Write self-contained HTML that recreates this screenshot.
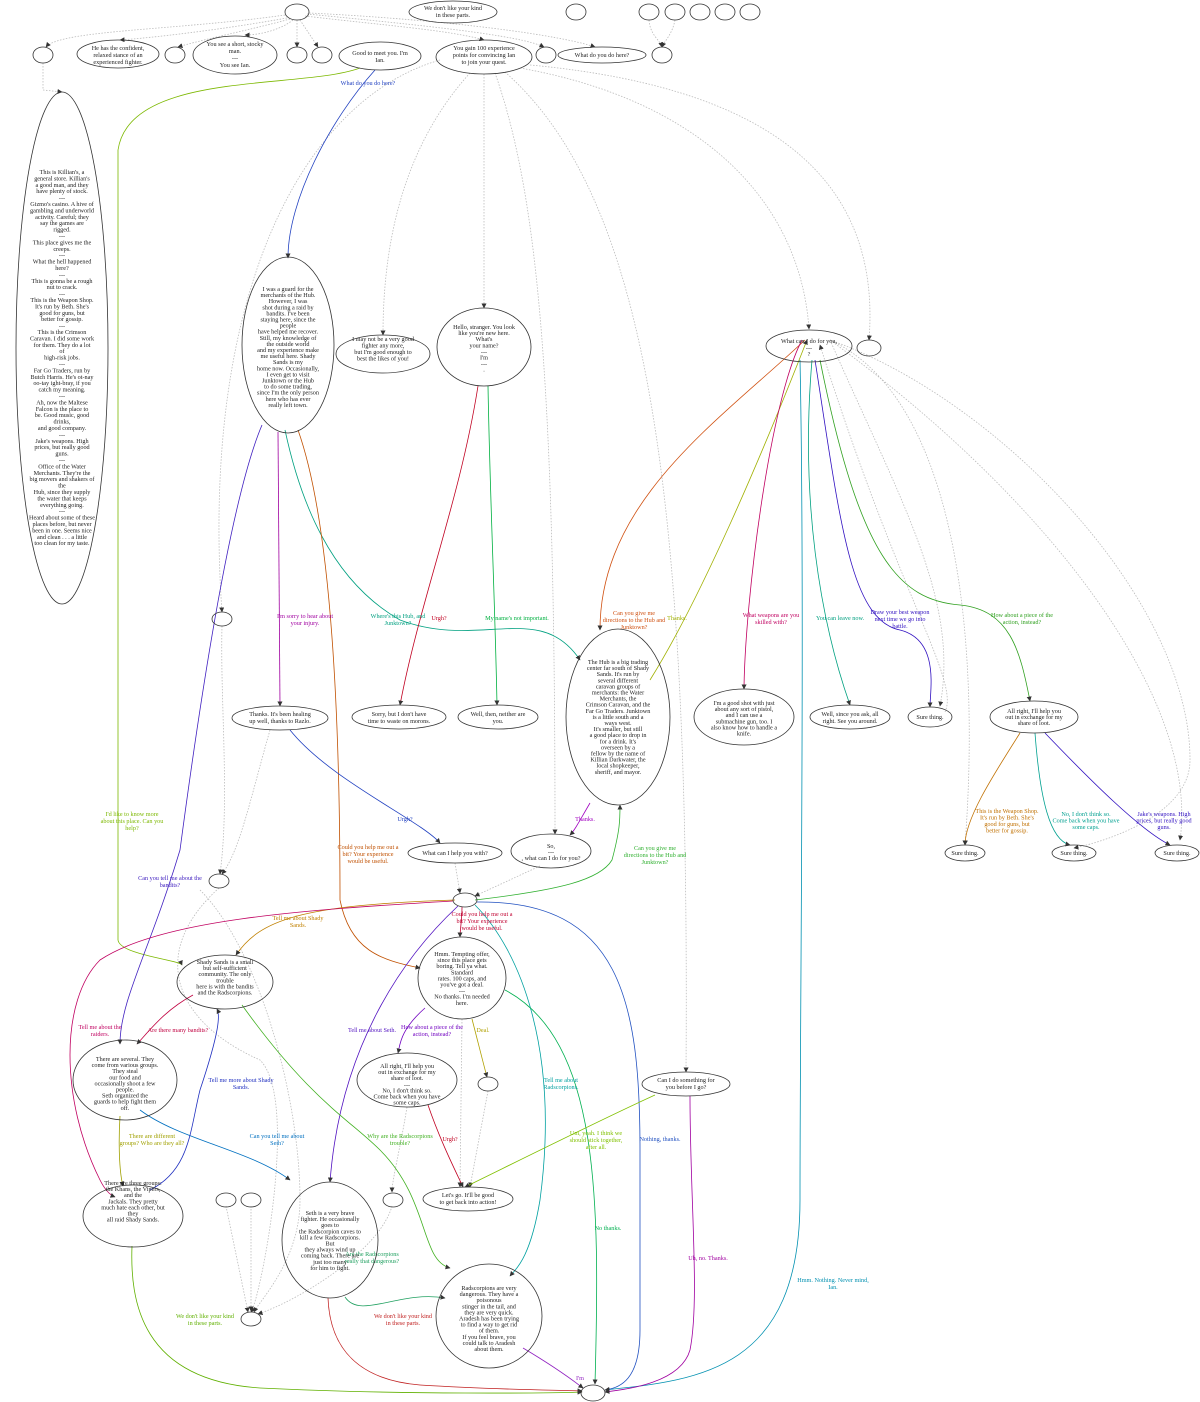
<!DOCTYPE html>
<html><head><meta charset="utf-8"><style>
html,body{margin:0;padding:0;background:#fff}
svg{display:block}
text{font-family:"Liberation Serif",serif;font-size:6.2px;text-anchor:middle;fill:#222}
.n{fill:none;stroke:#333;stroke-width:0.8}
.d path{fill:none;stroke:#bbb;stroke-width:0.8;stroke-dasharray:1.5,1.5;marker-end:url(#a)}
.e path{fill:none;stroke-width:0.8;marker-end:url(#a)}
</style></head><body>
<svg width="1200" height="1402" viewBox="0 0 1200 1402" xmlns="http://www.w3.org/2000/svg">
<defs><marker id="a" viewBox="0 0 10 10" refX="9" refY="5" markerWidth="5" markerHeight="5" orient="auto" markerUnits="userSpaceOnUse"><path d="M0,0 L10,5 L0,10 z" fill="#333"/></marker></defs>
<!-- dotted edges -->
<g class="d">
<path d="M285,15 C180,30 60,30 46,47"/>
<path d="M287,18 C220,30 150,38 120,40"/>
<path d="M290,19 C250,30 200,40 178,47"/>
<path d="M293,20 C280,30 260,35 245,35"/>
<path d="M297,20 L297,47"/>
<path d="M300,20 L318,47"/>
<path d="M305,16 C380,25 450,30 484,40"/>
<path d="M307,14 C420,25 520,35 544,47"/>
<path d="M309,13 C450,20 560,35 595,47"/>
<path d="M43,63 L43,90 L62,92"/>
<path d="M649,20 C650,35 660,40 662,47"/>
<path d="M675,20 C672,35 665,40 662,47"/>
<path d="M470,73 C400,150 383,250 383,335"/>
<path d="M484,74 L484,308"/>
<path d="M495,73 C540,200 555,400 555,834"/>
<path d="M505,72 C650,200 690,500 686,1072"/>
<path d="M520,68 C700,100 800,200 809,329"/>
<path d="M530,65 C800,90 880,200 869,340"/>
<path d="M440,60 C300,100 200,300 222,612"/>
<path d="M222,626 C220,700 230,800 220,874"/>
<path d="M270,730 C250,800 240,850 222,874"/>
<path d="M219,888 C150,950 170,1020 260,1060 C300,1100 260,1300 251,1312"/>
<path d="M830,340 C900,500 960,600 940,706"/>
<path d="M830,340 C960,400 980,650 965,845"/>
<path d="M830,340 C1000,400 1190,600 1190,760 C1190,820 1090,845 1074,848"/>
<path d="M830,340 C1050,500 1200,700 1180,840"/>
<path d="M945,712 C960,680 900,600 820,345"/>
<path d="M455,863 L460,893"/>
<path d="M540,866 L475,896"/>
<path d="M462,1019 L460,1187"/>
<path d="M488,1091 L470,1187"/>
<path d="M392,1206 C380,1250 300,1300 258,1314"/>
<path d="M407,1107 C400,1150 392,1180 392,1192"/>
<path d="M226,1206 L248,1312"/>
<path d="M251,1206 L251,1311"/>
<path d="M200,890 C260,950 300,1100 300,1200 C300,1260 260,1300 254,1312"/>
</g>
<!-- colored edges -->
<g class="e">
<path stroke="#7cb800" d="M360,68 C300,90 130,70 118,150 L118,940 C120,955 180,960 182,965"/>
<path stroke="#2040c0" d="M375,70 C330,120 288,200 288,258"/>
<path stroke="#a000a0" d="M278,432 L280,706"/>
<path stroke="#00a080" d="M285,430 C300,500 330,580 400,620 C480,650 540,600 580,660"/>
<path stroke="#c05000" d="M298,430 C330,520 340,700 340,900 C350,950 380,960 420,968"/>
<path stroke="#4020c0" d="M262,425 C230,500 200,700 180,850 C150,950 120,1000 120,1044"/>
<path stroke="#c00020" d="M478,386 C460,500 420,600 400,705"/>
<path stroke="#00b040" d="M488,386 C490,500 495,600 497,705"/>
<path stroke="#d05010" d="M805,340 C720,420 600,500 600,630"/>
<path stroke="#a0b000" d="M650,680 C700,600 760,460 807,340"/>
<path stroke="#c00060" d="M802,340 C770,400 745,600 744,689"/>
<path stroke="#00a080" d="M812,360 C800,500 820,620 850,705"/>
<path stroke="#3010c0" d="M815,360 C840,520 850,620 900,630 C940,640 930,690 930,707"/>
<path stroke="#30a020" d="M820,360 C860,560 900,600 960,605 C1010,610 1020,650 1030,701"/>
<path stroke="#c07000" d="M1020,733 C990,780 965,820 965,845"/>
<path stroke="#00a090" d="M1035,733 C1040,800 1050,840 1070,845"/>
<path stroke="#3010c0" d="M1045,733 C1090,780 1140,830 1170,845"/>
<path stroke="#0090b0" d="M800,360 C805,600 800,1000 800,1200 C800,1370 700,1380 605,1390"/>
<path stroke="#2040c0" d="M290,730 C330,780 420,820 440,843"/>
<path stroke="#a000c0" d="M590,803 C580,820 575,830 570,835"/>
<path stroke="#30b030" d="M475,900 C560,890 600,880 612,860 C620,830 620,820 620,805"/>
<path stroke="#c08000" d="M455,900 C300,905 260,920 236,955"/>
<path stroke="#c00030" d="M462,907 C462,920 460,930 460,937"/>
<path stroke="#c00060" d="M453,901 C300,910 160,920 100,960 C60,1000 60,1100 100,1180 C105,1190 110,1195 115,1197"/>
<path stroke="#5010c0" d="M458,906 C400,960 340,1050 330,1182"/>
<path stroke="#00a0a0" d="M475,905 C520,950 560,1050 540,1200 C530,1260 515,1270 510,1276"/>
<path stroke="#2050c0" d="M477,902 C620,900 640,1000 640,1150 L640,1330 C640,1380 620,1388 605,1390"/>
<path stroke="#00b050" d="M505,990 C600,1040 600,1200 595,1384"/>
<path stroke="#c00040" d="M193,995 C165,1010 150,1030 137,1044"/>
<path stroke="#40b020" d="M242,1005 C310,1100 350,1120 380,1150 C430,1200 420,1260 450,1268"/>
<path stroke="#7000c0" d="M425,1008 C400,1030 400,1045 398,1053"/>
<path stroke="#b0a000" d="M472,1019 C480,1050 485,1070 487,1077"/>
<path stroke="#c00020" d="M428,1105 C440,1140 455,1170 463,1187"/>
<path stroke="#80c000" d="M655,1095 C600,1120 500,1170 465,1187"/>
<path stroke="#a000a0" d="M690,1096 C690,1200 700,1300 690,1350 C680,1385 620,1390 605,1392"/>
<path stroke="#a0a000" d="M120,1116 C118,1150 120,1175 123,1186"/>
<path stroke="#0070c0" d="M140,1110 C180,1140 250,1150 290,1180"/>
<path stroke="#2030c0" d="M150,1190 C190,1170 190,1130 200,1090 C220,1030 220,1015 217,1009"/>
<path stroke="#60b000" d="M132,1246 C130,1300 140,1380 260,1388 C400,1395 560,1393 582,1392"/>
<path stroke="#20a060" d="M345,1297 C360,1320 400,1290 445,1298"/>
<path stroke="#c02020" d="M328,1298 C330,1350 360,1380 420,1385 C500,1390 560,1390 582,1391"/>
<path stroke="#9020c0" d="M523,1348 C560,1370 575,1382 583,1388"/>
</g>
<!-- edge labels -->
<g>
<text x="368" y="85" style="fill:#2040c0">What do you do here?</text>
<text x="132" y="816" style="fill:#7cb800"><tspan x="132">I'd like to know more</tspan><tspan x="132" dy="7">about this place. Can you</tspan><tspan x="132" dy="7">help?</tspan></text>
<text x="305" y="618" style="fill:#a000a0"><tspan x="305">I'm sorry to hear about</tspan><tspan x="305" dy="7">your injury.</tspan></text>
<text x="398" y="618" style="fill:#00a080"><tspan x="398">Where's this Hub, and</tspan><tspan x="398" dy="7">Junktown?</tspan></text>
<text x="368" y="849" style="fill:#c05000"><tspan x="368">Could you help me out a</tspan><tspan x="368" dy="7">bit? Your experience</tspan><tspan x="368" dy="7">would be useful.</tspan></text>
<text x="170" y="880" style="fill:#4020c0"><tspan x="170">Can you tell me about the</tspan><tspan x="170" dy="7">bandits?</tspan></text>
<text x="439" y="620" style="fill:#c00020">Urgh?</text>
<text x="517" y="620" style="fill:#00b040">My name's not important.</text>
<text x="634" y="615" style="fill:#d05010"><tspan x="634">Can you give me</tspan><tspan x="634" dy="7">directions to the Hub and</tspan><tspan x="634" dy="7">Junktown?</tspan></text>
<text x="677" y="620" style="fill:#a0b000">Thanks.</text>
<text x="771" y="617" style="fill:#c00060"><tspan x="771">What weapons are you</tspan><tspan x="771" dy="7">skilled with?</tspan></text>
<text x="840" y="620" style="fill:#00a080">You can leave now.</text>
<text x="900" y="614" style="fill:#3010c0"><tspan x="900">Draw your best weapon</tspan><tspan x="900" dy="7">next time we go into</tspan><tspan x="900" dy="7">battle.</tspan></text>
<text x="1022" y="617" style="fill:#30a020"><tspan x="1022">How about a piece of the</tspan><tspan x="1022" dy="7">action, instead?</tspan></text>
<text x="1007" y="813" style="fill:#c07000"><tspan x="1007">This is the Weapon Shop.</tspan><tspan x="1007" dy="6.5">It's run by Beth. She's</tspan><tspan x="1007" dy="6.5">good for guns, but</tspan><tspan x="1007" dy="6.5">better for gossip.</tspan></text>
<text x="1086" y="816" style="fill:#00a090"><tspan x="1086">No, I don't think so.</tspan><tspan x="1086" dy="6.5">Come back when you have</tspan><tspan x="1086" dy="6.5">some caps.</tspan></text>
<text x="1164" y="816" style="fill:#3010c0"><tspan x="1164">Jake's weapons. High</tspan><tspan x="1164" dy="6.5">prices, but really good</tspan><tspan x="1164" dy="6.5">guns.</tspan></text>
<text x="833" y="1282" style="fill:#0090b0"><tspan x="833">Hmm. Nothing. Never mind,</tspan><tspan x="833" dy="7">Ian.</tspan></text>
<text x="405" y="821" style="fill:#2040c0">Urgh?</text>
<text x="585" y="821" style="fill:#a000c0">Thanks.</text>
<text x="655" y="850" style="fill:#30b030"><tspan x="655">Can you give me</tspan><tspan x="655" dy="7">directions to the Hub and</tspan><tspan x="655" dy="7">Junktown?</tspan></text>
<text x="298" y="920" style="fill:#c08000"><tspan x="298">Tell me about Shady</tspan><tspan x="298" dy="7">Sands.</tspan></text>
<text x="482" y="916" style="fill:#c00030"><tspan x="482">Could you help me out a</tspan><tspan x="482" dy="7">bit? Your experience</tspan><tspan x="482" dy="7">would be useful.</tspan></text>
<text x="100" y="1029" style="fill:#c00060"><tspan x="100">Tell me about the</tspan><tspan x="100" dy="7">raiders.</tspan></text>
<text x="178" y="1032" style="fill:#c00040">Are there many bandits?</text>
<text x="372" y="1032" style="fill:#5010c0">Tell me about Seth.</text>
<text x="432" y="1029" style="fill:#7000c0"><tspan x="432">How about a piece of the</tspan><tspan x="432" dy="7">action, instead?</tspan></text>
<text x="483" y="1032" style="fill:#b0a000">Deal.</text>
<text x="561" y="1082" style="fill:#00a0a0"><tspan x="561">Tell me about</tspan><tspan x="561" dy="7">Radscorpions.</tspan></text>
<text x="241" y="1082" style="fill:#2030c0"><tspan x="241">Tell me more about Shady</tspan><tspan x="241" dy="7">Sands.</tspan></text>
<text x="152" y="1138" style="fill:#a0a000"><tspan x="152">There are different</tspan><tspan x="152" dy="7">groups? Who are they all?</tspan></text>
<text x="277" y="1138" style="fill:#0070c0"><tspan x="277">Can you tell me about</tspan><tspan x="277" dy="7">Seth?</tspan></text>
<text x="400" y="1138" style="fill:#40b020"><tspan x="400">Why are the Radscorpions</tspan><tspan x="400" dy="7">trouble?</tspan></text>
<text x="450" y="1141" style="fill:#c00020">Urgh?</text>
<text x="596" y="1135" style="fill:#80c000"><tspan x="596">Um, yeah. I think we</tspan><tspan x="596" dy="7">should stick together,</tspan><tspan x="596" dy="7">after all.</tspan></text>
<text x="660" y="1141" style="fill:#2050c0">Nothing, thanks.</text>
<text x="608" y="1230" style="fill:#00b050">No thanks.</text>
<text x="708" y="1260" style="fill:#a000a0">Uh, no. Thanks.</text>
<text x="372" y="1256" style="fill:#20a060"><tspan x="372">Are the Radscorpions</tspan><tspan x="372" dy="7">really that dangerous?</tspan></text>
<text x="205" y="1318" style="fill:#60b000"><tspan x="205">We don't like your kind</tspan><tspan x="205" dy="7">in these parts.</tspan></text>
<text x="403" y="1318" style="fill:#c02020"><tspan x="403">We don't like your kind</tspan><tspan x="403" dy="7">in these parts.</tspan></text>
<text x="580" y="1380" style="fill:#9020c0">I'm</text>
</g>
<!-- nodes -->
<g class="n">
<ellipse cx="297" cy="12" rx="12" ry="8"/>
<ellipse cx="453" cy="12" rx="44" ry="11"/>
<ellipse cx="576" cy="12" rx="10" ry="8"/>
<ellipse cx="649" cy="12" rx="10" ry="8"/>
<ellipse cx="675" cy="12" rx="10" ry="8"/>
<ellipse cx="700" cy="12" rx="10" ry="8"/>
<ellipse cx="725" cy="12" rx="10" ry="8"/>
<ellipse cx="750" cy="12" rx="10" ry="8"/>
<ellipse cx="43" cy="55" rx="10" ry="8"/>
<ellipse cx="118" cy="54" rx="41" ry="14"/>
<ellipse cx="175" cy="55" rx="10" ry="8"/>
<ellipse cx="235" cy="55" rx="42" ry="19"/>
<ellipse cx="297" cy="55" rx="10" ry="8"/>
<ellipse cx="322" cy="55" rx="10" ry="8"/>
<ellipse cx="380" cy="56" rx="41" ry="14"/>
<ellipse cx="484" cy="57" rx="48" ry="17"/>
<ellipse cx="546" cy="55" rx="10" ry="8"/>
<ellipse cx="602" cy="55" rx="44" ry="8"/>
<ellipse cx="662" cy="55" rx="10" ry="8"/>
<ellipse cx="62" cy="348" rx="46" ry="256"/>
<ellipse cx="288" cy="345" rx="46" ry="88"/>
<ellipse cx="383" cy="354" rx="47" ry="19"/>
<ellipse cx="484" cy="347" rx="47" ry="39"/>
<ellipse cx="809" cy="346" rx="43" ry="16"/>
<ellipse cx="869" cy="348" rx="12" ry="8"/>
<ellipse cx="222" cy="619" rx="10" ry="7"/>
<ellipse cx="280" cy="718" rx="48" ry="12"/>
<ellipse cx="399" cy="717" rx="47" ry="12"/>
<ellipse cx="498" cy="717" rx="40" ry="12"/>
<ellipse cx="618" cy="717" rx="52" ry="88"/>
<ellipse cx="744" cy="717" rx="50" ry="28"/>
<ellipse cx="850" cy="717" rx="40" ry="12"/>
<ellipse cx="930" cy="717" rx="22" ry="10"/>
<ellipse cx="1034" cy="717" rx="44" ry="16"/>
<ellipse cx="965" cy="853" rx="20" ry="8"/>
<ellipse cx="1074" cy="853" rx="22" ry="8"/>
<ellipse cx="1177" cy="853" rx="22" ry="8"/>
<ellipse cx="455" cy="853" rx="47" ry="10"/>
<ellipse cx="551" cy="851" rx="40" ry="17"/>
<ellipse cx="219" cy="881" rx="10" ry="7"/>
<ellipse cx="465" cy="900" rx="12" ry="7"/>
<ellipse cx="225" cy="982" rx="48" ry="27"/>
<ellipse cx="462" cy="978" rx="44" ry="41"/>
<ellipse cx="407" cy="1080" rx="50" ry="27"/>
<ellipse cx="488" cy="1084" rx="10" ry="7"/>
<ellipse cx="686" cy="1084" rx="44" ry="12"/>
<ellipse cx="125" cy="1080" rx="52" ry="40"/>
<ellipse cx="330" cy="1240" rx="48" ry="58"/>
<ellipse cx="133" cy="1216" rx="50" ry="31"/>
<ellipse cx="226" cy="1200" rx="10" ry="7"/>
<ellipse cx="251" cy="1200" rx="10" ry="7"/>
<ellipse cx="393" cy="1200" rx="10" ry="7"/>
<ellipse cx="468" cy="1199" rx="45" ry="12"/>
<ellipse cx="489" cy="1316" rx="53" ry="52"/>
<ellipse cx="251" cy="1319" rx="10" ry="7"/>
<ellipse cx="593" cy="1393" rx="12" ry="8"/>
</g>
<!-- node text -->
<text x="453" y="10"><tspan x="453">We don't like your kind</tspan><tspan x="453" dy="7">in these parts.</tspan></text>
<text x="118" y="50"><tspan x="118">He has the confident,</tspan><tspan x="118" dy="7">relaxed stance of an</tspan><tspan x="118" dy="7">experienced fighter.</tspan></text>
<text x="235" y="46"><tspan x="235">You see a short, stocky</tspan><tspan x="235" dy="7">man.</tspan><tspan x="235" dy="7">---</tspan><tspan x="235" dy="7">You see Ian.</tspan></text>
<text x="380" y="55"><tspan x="380">Good to meet you. I'm</tspan><tspan x="380" dy="7">Ian.</tspan></text>
<text x="484" y="50"><tspan x="484">You gain 100 experience</tspan><tspan x="484" dy="7">points for convincing Ian</tspan><tspan x="484" dy="7">to join your quest.</tspan></text>
<text x="602" y="57">What do you do here?</text>
<text x="62" y="174"><tspan x="62">This is Killian's, a</tspan><tspan x="62" dy="6.4">general store. Killian's</tspan><tspan x="62" dy="6.4">a good man, and they</tspan><tspan x="62" dy="6.4">have plenty of stock.</tspan><tspan x="62" dy="6.4">---</tspan><tspan x="62" dy="6.4">Gizmo's casino. A hive of</tspan><tspan x="62" dy="6.4">gambling and underworld</tspan><tspan x="62" dy="6.4">activity. Careful; they</tspan><tspan x="62" dy="6.4">say the games are</tspan><tspan x="62" dy="6.4">rigged.</tspan><tspan x="62" dy="6.4">---</tspan><tspan x="62" dy="6.4">This place gives me the</tspan><tspan x="62" dy="6.4">creeps.</tspan><tspan x="62" dy="6.4">---</tspan><tspan x="62" dy="6.4">What the hell happened</tspan><tspan x="62" dy="6.4">here?</tspan><tspan x="62" dy="6.4">---</tspan><tspan x="62" dy="6.4">This is gonna be a rough</tspan><tspan x="62" dy="6.4">nut to crack.</tspan><tspan x="62" dy="6.4">---</tspan><tspan x="62" dy="6.4">This is the Weapon Shop.</tspan><tspan x="62" dy="6.4">It's run by Beth. She's</tspan><tspan x="62" dy="6.4">good for guns, but</tspan><tspan x="62" dy="6.4">better for gossip.</tspan><tspan x="62" dy="6.4">---</tspan><tspan x="62" dy="6.4">This is the Crimson</tspan><tspan x="62" dy="6.4">Caravan. I did some work</tspan><tspan x="62" dy="6.4">for them. They do a lot</tspan><tspan x="62" dy="6.4">of</tspan><tspan x="62" dy="6.4">high-risk jobs.</tspan><tspan x="62" dy="6.4">---</tspan><tspan x="62" dy="6.4">Far Go Traders, run by</tspan><tspan x="62" dy="6.4">Butch Harris. He's ot-nay</tspan><tspan x="62" dy="6.4">oo-tay ight-bray, if you</tspan><tspan x="62" dy="6.4">catch my meaning.</tspan><tspan x="62" dy="6.4">---</tspan><tspan x="62" dy="6.4">Ah, now the Maltese</tspan><tspan x="62" dy="6.4">Falcon is the place to</tspan><tspan x="62" dy="6.4">be. Good music, good</tspan><tspan x="62" dy="6.4">drinks,</tspan><tspan x="62" dy="6.4">and good company.</tspan><tspan x="62" dy="6.4">---</tspan><tspan x="62" dy="6.4">Jake's weapons. High</tspan><tspan x="62" dy="6.4">prices, but really good</tspan><tspan x="62" dy="6.4">guns.</tspan><tspan x="62" dy="6.4">---</tspan><tspan x="62" dy="6.4">Office of the Water</tspan><tspan x="62" dy="6.4">Merchants. They're the</tspan><tspan x="62" dy="6.4">big movers and shakers of</tspan><tspan x="62" dy="6.4">the</tspan><tspan x="62" dy="6.4">Hub, since they supply</tspan><tspan x="62" dy="6.4">the water that keeps</tspan><tspan x="62" dy="6.4">everything going.</tspan><tspan x="62" dy="6.4">---</tspan><tspan x="62" dy="6.4">Heard about some of these</tspan><tspan x="62" dy="6.4">places before, but never</tspan><tspan x="62" dy="6.4">been in one. Seems nice</tspan><tspan x="62" dy="6.4">and clean . . . a little</tspan><tspan x="62" dy="6.4">too clean for my taste.</tspan></text>
<text x="288" y="291"><tspan x="288">I was a guard for the</tspan><tspan x="288" dy="6.1">merchants of the Hub.</tspan><tspan x="288" dy="6.1">However, I was</tspan><tspan x="288" dy="6.1">shot during a raid by</tspan><tspan x="288" dy="6.1">bandits. I've been</tspan><tspan x="288" dy="6.1">staying here, since the</tspan><tspan x="288" dy="6.1">people</tspan><tspan x="288" dy="6.1">have helped me recover.</tspan><tspan x="288" dy="6.1">Still, my knowledge of</tspan><tspan x="288" dy="6.1">the outside world</tspan><tspan x="288" dy="6.1">and my experience make</tspan><tspan x="288" dy="6.1">me useful here. Shady</tspan><tspan x="288" dy="6.1">Sands is my</tspan><tspan x="288" dy="6.1">home now. Occasionally,</tspan><tspan x="288" dy="6.1">I even get to visit</tspan><tspan x="288" dy="6.1">Junktown or the Hub</tspan><tspan x="288" dy="6.1">to do some trading,</tspan><tspan x="288" dy="6.1">since I'm the only person</tspan><tspan x="288" dy="6.1">here who has ever</tspan><tspan x="288" dy="6.1">really left town.</tspan></text>
<text x="383" y="341"><tspan x="383">I may not be a very good</tspan><tspan x="383" dy="6.5">fighter any more,</tspan><tspan x="383" dy="6.5">but I'm good enough to</tspan><tspan x="383" dy="6.5">best the likes of you!</tspan></text>
<text x="484" y="329"><tspan x="484">Hello, stranger. You look</tspan><tspan x="484" dy="6.1">like you're new here.</tspan><tspan x="484" dy="6.1">What's</tspan><tspan x="484" dy="6.1">your name?</tspan><tspan x="484" dy="6.1">---</tspan><tspan x="484" dy="6.1">I'm</tspan><tspan x="484" dy="6.1">---</tspan><tspan x="484" dy="6.1">.</tspan></text>
<text x="809" y="343"><tspan x="809">What can I do for you,</tspan><tspan x="809" dy="6.5">---</tspan><tspan x="809" dy="6.5">?</tspan></text>
<text x="280" y="716"><tspan x="280">Thanks. It's been healing</tspan><tspan x="280" dy="7">up well, thanks to Razlo.</tspan></text>
<text x="399" y="716"><tspan x="399">Sorry, but I don't have</tspan><tspan x="399" dy="7">time to waste on morons.</tspan></text>
<text x="498" y="716"><tspan x="498">Well, then, neither are</tspan><tspan x="498" dy="7">you.</tspan></text>
<text x="618" y="664"><tspan x="618">The Hub is a big trading</tspan><tspan x="618" dy="6.1">center far south of Shady</tspan><tspan x="618" dy="6.1">Sands. It's run by</tspan><tspan x="618" dy="6.1">several different</tspan><tspan x="618" dy="6.1">caravan groups of</tspan><tspan x="618" dy="6.1">merchants: the Water</tspan><tspan x="618" dy="6.1">Merchants, the</tspan><tspan x="618" dy="6.1">Crimson Caravan, and the</tspan><tspan x="618" dy="6.1">Far Go Traders. Junktown</tspan><tspan x="618" dy="6.1">is a little south and a</tspan><tspan x="618" dy="6.1">ways west.</tspan><tspan x="618" dy="6.1">It's smaller, but still</tspan><tspan x="618" dy="6.1">a good place to drop in</tspan><tspan x="618" dy="6.1">for a drink. It's</tspan><tspan x="618" dy="6.1">overseen by a</tspan><tspan x="618" dy="6.1">fellow by the name of</tspan><tspan x="618" dy="6.1">Killian Darkwater, the</tspan><tspan x="618" dy="6.1">local shopkeeper,</tspan><tspan x="618" dy="6.1">sheriff, and mayor.</tspan></text>
<text x="744" y="705"><tspan x="744">I'm a good shot with just</tspan><tspan x="744" dy="6.1">about any sort of pistol,</tspan><tspan x="744" dy="6.1">and I can use a</tspan><tspan x="744" dy="6.1">submachine gun, too. I</tspan><tspan x="744" dy="6.1">also know how to handle a</tspan><tspan x="744" dy="6.1">knife.</tspan></text>
<text x="850" y="716"><tspan x="850">Well, since you ask, all</tspan><tspan x="850" dy="7">right. See you around.</tspan></text>
<text x="930" y="719">Sure thing.</text>
<text x="1034" y="713"><tspan x="1034">All right, I'll help you</tspan><tspan x="1034" dy="6.1">out in exchange for my</tspan><tspan x="1034" dy="6.1">share of loot.</tspan></text>
<text x="965" y="855">Sure thing.</text>
<text x="1074" y="855">Sure thing.</text>
<text x="1177" y="855">Sure thing.</text>
<text x="455" y="855">What can I help you with?</text>
<text x="551" y="848"><tspan x="551">So,</tspan><tspan x="551" dy="6">---</tspan><tspan x="551" dy="6">, what can I do for you?</tspan></text>
<text x="225" y="964"><tspan x="225">Shady Sands is a small</tspan><tspan x="225" dy="6.1">but self-sufficient</tspan><tspan x="225" dy="6.1">community. The only</tspan><tspan x="225" dy="6.1">trouble</tspan><tspan x="225" dy="6.1">here is with the bandits</tspan><tspan x="225" dy="6.1">and the Radscorpions.</tspan></text>
<text x="462" y="956"><tspan x="462">Hmm. Tempting offer,</tspan><tspan x="462" dy="6.1">since this place gets</tspan><tspan x="462" dy="6.1">boring. Tell ya what.</tspan><tspan x="462" dy="6.1">Standard</tspan><tspan x="462" dy="6.1">rates. 100 caps, and</tspan><tspan x="462" dy="6.1">you've got a deal.</tspan><tspan x="462" dy="6.1">---</tspan><tspan x="462" dy="6.1">No thanks. I'm needed</tspan><tspan x="462" dy="6.1">here.</tspan></text>
<text x="407" y="1068"><tspan x="407">All right, I'll help you</tspan><tspan x="407" dy="6.1">out in exchange for my</tspan><tspan x="407" dy="6.1">share of loot.</tspan><tspan x="407" dy="6.1">---</tspan><tspan x="407" dy="6.1">No, I don't think so.</tspan><tspan x="407" dy="6.1">Come back when you have</tspan><tspan x="407" dy="6.1">some caps.</tspan></text>
<text x="686" y="1082"><tspan x="686">Can I do something for</tspan><tspan x="686" dy="7">you before I go?</tspan></text>
<text x="125" y="1061"><tspan x="125">There are several. They</tspan><tspan x="125" dy="6.1">come from various groups.</tspan><tspan x="125" dy="6.1">They steal</tspan><tspan x="125" dy="6.1">our food and</tspan><tspan x="125" dy="6.1">occasionally shoot a few</tspan><tspan x="125" dy="6.1">people.</tspan><tspan x="125" dy="6.1">Seth organized the</tspan><tspan x="125" dy="6.1">guards to help fight them</tspan><tspan x="125" dy="6.1">off.</tspan></text>
<text x="133" y="1185"><tspan x="133">There are three groups:</tspan><tspan x="133" dy="6.1">the Khans, the Vipers,</tspan><tspan x="133" dy="6.1">and the</tspan><tspan x="133" dy="6.1">Jackals. They pretty</tspan><tspan x="133" dy="6.1">much hate each other, but</tspan><tspan x="133" dy="6.1">they</tspan><tspan x="133" dy="6.1">all raid Shady Sands.</tspan></text>
<text x="330" y="1215"><tspan x="330">Seth is a very brave</tspan><tspan x="330" dy="6.1">fighter. He occasionally</tspan><tspan x="330" dy="6.1">goes to</tspan><tspan x="330" dy="6.1">the Radscorpion caves to</tspan><tspan x="330" dy="6.1">kill a few Radscorpions.</tspan><tspan x="330" dy="6.1">But</tspan><tspan x="330" dy="6.1">they always wind up</tspan><tspan x="330" dy="6.1">coming back. There are</tspan><tspan x="330" dy="6.1">just too many</tspan><tspan x="330" dy="6.1">for him to fight.</tspan></text>
<text x="468" y="1197"><tspan x="468">Let's go. It'll be good</tspan><tspan x="468" dy="7">to get back into action!</tspan></text>
<text x="489" y="1290"><tspan x="489">Radscorpions are very</tspan><tspan x="489" dy="6.1">dangerous. They have a</tspan><tspan x="489" dy="6.1">poisonous</tspan><tspan x="489" dy="6.1">stinger in the tail, and</tspan><tspan x="489" dy="6.1">they are very quick.</tspan><tspan x="489" dy="6.1">Aradesh has been trying</tspan><tspan x="489" dy="6.1">to find a way to get rid</tspan><tspan x="489" dy="6.1">of them.</tspan><tspan x="489" dy="6.1">If you feel brave, you</tspan><tspan x="489" dy="6.1">could talk to Aradesh</tspan><tspan x="489" dy="6.1">about them.</tspan></text>
</svg>
</body></html>
